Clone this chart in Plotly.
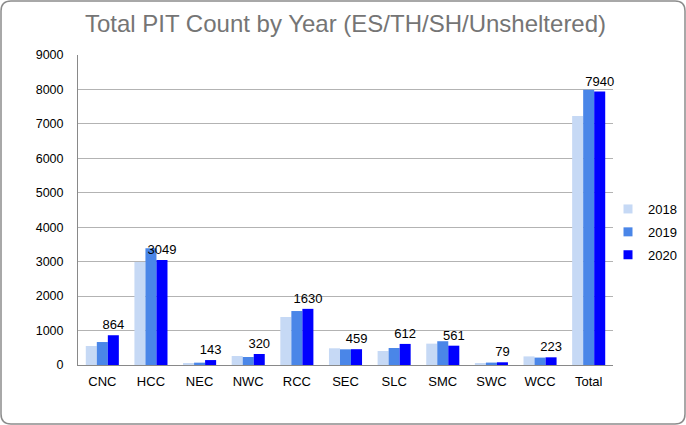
import plotly.graph_objects as go

categories = ["CNC", "HCC", "NEC", "NWC", "RCC", "SEC", "SLC", "SMC", "SWC", "WCC", "Total"]
v2018 = [551, 2990, 55, 261, 1393, 485, 406, 620, 30, 250, 7226]
v2019 = [667, 3386, 68, 232, 1567, 455, 493, 690, 70, 215, 7990]
v2020 = [864, 3049, 143, 320, 1630, 459, 612, 561, 79, 223, 7940]
years = ["2018", "2019", "2020"]
colors = ["#c6d9f5", "#4a86e8", "#0000ff"]
y_ticks = list(range(0, 9001, 1000))

font = "Liberation Sans, Arial, sans-serif"
fig = go.Figure()
for name, vals, col in zip(years, [v2018, v2019, v2020], colors):
    show_text = name == "2020"
    fig.add_trace(go.Bar(
        x=categories, y=vals, name=name, marker_color=col,
        marker_line_width=0, showlegend=False, legendgroup=name,
        text=[str(v) for v in vals] if show_text else None,
        textposition="outside" if show_text else "none",
        constraintext="none",
        textfont=dict(size=13, color="#000000", family=font),
        cliponaxis=False,
    ))
# legend entries with small square symbols
for name, col in zip(years, colors):
    fig.add_trace(go.Scatter(
        x=[None], y=[None], mode="markers", name=name, legendgroup=name,
        marker=dict(symbol="square", size=9, color=col),
    ))

L, R, T, B = 78, 73, 55, 60
W, H = 686, 425
pw, ph = W - L - R, H - T - B

def px(x):
    return (x - L) / pw

def py(y):
    return (H - B - y) / ph

r = 10
x0, x1, y0, y1 = 1, 685, 1, 424
path = (f"M {px(x0 + r)} {py(y0)} L {px(x1 - r)} {py(y0)} Q {px(x1)} {py(y0)} {px(x1)} {py(y0 + r)} "
        f"L {px(x1)} {py(y1 - r)} Q {px(x1)} {py(y1)} {px(x1 - r)} {py(y1)} "
        f"L {px(x0 + r)} {py(y1)} Q {px(x0)} {py(y1)} {px(x0)} {py(y1 - r)} "
        f"L {px(x0)} {py(y0 + r)} Q {px(x0)} {py(y0)} {px(x0 + r)} {py(y0)} Z")

fig.update_layout(
    width=W, height=H,
    margin=dict(l=L, r=R, t=T, b=B, autoexpand=False),
    paper_bgcolor="white", plot_bgcolor="white",
    font=dict(family=font, size=13, color="#000000"),
    title=dict(text="Total PIT Count by Year (ES/TH/SH/Unsheltered)",
               x=0.5, xref="paper", xanchor="center", y=1 - 24 / H, yanchor="middle",
               font=dict(size=24, color="#757575", family=font)),
    barmode="group", bargap=0.32, bargroupgap=0,
    legend=dict(x=px(608), y=py(232), xanchor="left", yanchor="middle",
                font=dict(size=13, family=font), itemwidth=30,
                traceorder="grouped", tracegroupgap=3, bgcolor="rgba(0,0,0,0)"),
    xaxis=dict(showline=True, linecolor="#898989", linewidth=1, ticks="",
               tickfont=dict(size=13), showgrid=False, ticklabelstandoff=4),
    yaxis=dict(range=[0, 9000], tickvals=y_ticks, showline=True, linecolor="#898989",
               linewidth=1, gridcolor="#b3b3b3", gridwidth=1, ticks="",
               tickfont=dict(size=12.5), zeroline=False, ticklabelstandoff=11),
    shapes=[dict(type="path", path=path, xref="paper", yref="paper",
                 line=dict(color="#8c8c8c", width=1.5), fillcolor="rgba(0,0,0,0)",
                 layer="above")],
    showlegend=True,
)
fig.write_html("out.html", config={"displayModeBar": False},
               post_script="document.body.style.margin='0';document.body.style.overflow='hidden';")
